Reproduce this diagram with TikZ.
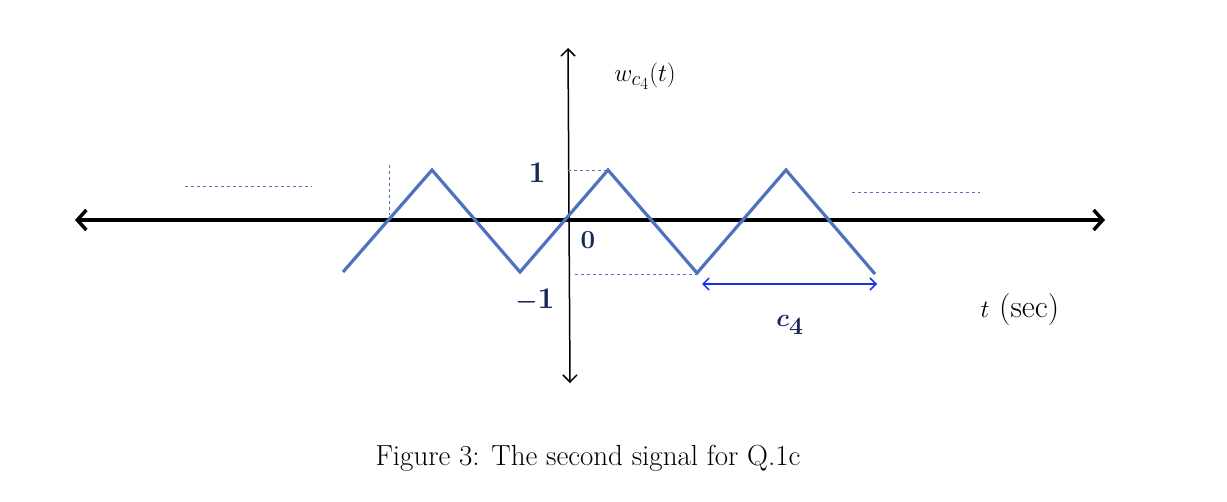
\documentclass[tikz,border=0pt]{standalone}
\usepackage{amsmath}
\usepackage{bm}
\usetikzlibrary{arrows.meta}
\definecolor{wave}{RGB}{79,114,190}
\definecolor{lab}{RGB}{20,40,90}
\definecolor{arr}{RGB}{20,50,230}
\tikzset{
  wavestyle/.style={wave,line width=3.2pt,line join=miter},
  guide/.style={wave,dashed,line width=1pt},
  lbl/.style={lab,font=\fontsize{30}{34}\selectfont\bfseries},
}
\begin{document}
\begin{tikzpicture}[x=1pt,y=-1pt]
\useasboundingbox (0,0) rectangle (1227,501);
% axes
\coordinate (hl) at (75,220); \coordinate (hr) at (1105,220);
\draw[line width=3.5pt,{Straight Barb[length=9pt,width=20pt]}-{Straight Barb[length=9pt,width=20pt]}] (hl) -- (hr);
\coordinate (vt) at (568,48); \coordinate (vb) at (570,383);
\draw[line width=1.5pt,{Straight Barb[length=7pt,width=14pt]}-{Straight Barb[length=7pt,width=14pt]}] (vb) -- (vt);
% wave
\draw[wavestyle] (343,272) -- (432,170) -- (520,272) -- (608,170) -- (697,273) -- (786,170) -- (875,274);
% guides
\draw[guide] (185,186) -- (312,186);
\draw[guide] (852,192) -- (980,192);
\draw[guide] (389,165) -- (389,215);
\draw[guide] (568,170) -- (608,170);
\draw[guide] (575,274) -- (697,274);
% c4 arrow
\coordinate (al) at (702,284); \coordinate (ar) at (877,284);
\draw[arr,line width=1.5pt,{Straight Barb[length=6pt,width=12pt]}-{Straight Barb[length=6pt,width=12pt]}] (al) -- (ar);
% labels
\node[lbl] (one) at (537,173) {1};
\node[lbl,font=\fontsize{26}{30}\selectfont\bfseries] (zero) at (588,240) {0};
\node[lbl] (mone) at (535,300) {$\bm{-}$1};
\node[lab,font=\fontsize{34}{38}\selectfont] (c4) at (790,325) {$\bm{c_4}$};
\node[font=\fontsize{32}{36}\selectfont] (t) at (1020,310) {$t$ (sec)};
\node[font=\fontsize{32}{36}\selectfont] (w) at (645,76) {$w_{c_4}(t)$};
\node[font=\fontsize{29}{34}\selectfont] (cap) at (588,458) {Figure 3: The second signal for Q.1c};
\end{tikzpicture}
\end{document}
